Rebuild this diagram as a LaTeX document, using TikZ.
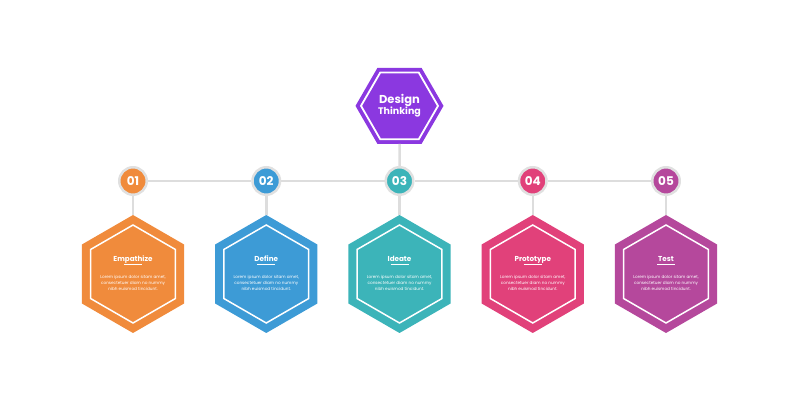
\documentclass[tikz,border=0pt]{standalone}
\usepackage{fontspec}
\setmainfont{Poppins}
\usepackage{tikz}
\usetikzlibrary{positioning}
\usetikzlibrary{shapes}

\definecolor{empathize}{HTML}{F08B3C}
\definecolor{define}{HTML}{3D9BD6}
\definecolor{ideate}{HTML}{3CB4B9}
\definecolor{prototype}{HTML}{E1417A}
\definecolor{testcol}{HTML}{B5489C}
\definecolor{thinking}{HTML}{8B38E0}
\definecolor{ringgray}{HTML}{E0E0E0}
\definecolor{linegray}{HTML}{DDDDDD}

\begin{document}
\begin{tikzpicture}[x=1pt,y=1pt,node distance=133.25pt,
    num node/.style={circle,draw=ringgray,line width=2.5pt,minimum size=27.5pt,inner sep=0pt,text=white,font=\bfseries\fontsize{12}{12}\selectfont},
    phase hex/.style={regular polygon,regular polygon sides=6,shape border rotate=30,minimum size=118pt,inner sep=0pt,outer sep=0pt},
    inner hex/.style={phase hex,draw=white,line width=1.5pt,minimum size=98pt},
    design hex/.style={regular polygon,regular polygon sides=6,minimum size=88pt,inner sep=0pt,outer sep=0pt,fill=thinking,text=white,align=center,font=\bfseries},
    design inner/.style={regular polygon,regular polygon sides=6,minimum size=77pt,inner sep=0pt,draw=white,line width=1.8pt},
    title/.style={text=white,anchor=base,font=\bfseries\fontsize{7.2}{8}\selectfont},
    body/.style={text=white,align=center,font=\fontsize{4.2}{6}\selectfont},
    bar/.style={white,line width=1pt},
    link/.style={draw=linegray,line width=2.5pt}]

    \useasboundingbox (0,0) rectangle (800,403);

    % numbered circles
    \node[num node,fill=empathize](c1) at (133,222){01};
    \node[num node,fill=define](c2)[right of = c1]{02};
    \node[num node,fill=ideate](c3)[right of = c2]{03};
    \node[num node,fill=prototype](c4)[right of = c3]{04};
    \node[num node,fill=testcol](c5)[right of = c4]{05};

    % top hexagon
    \node[design hex](dt)[above = 22pt of c3]{{\fontsize{11.5}{13}\selectfont Design}\\[-1pt]{\fontsize{9.5}{11}\selectfont Thinking}};
    \node[design inner](di) at (dt){};

    % phase hexagons
    \node[phase hex,fill=empathize](h1)[below = 19pt of c1]{};
    \node[phase hex,fill=define](h2)[below = 19pt of c2]{};
    \node[phase hex,fill=ideate](h3)[below = 19pt of c3]{};
    \node[phase hex,fill=prototype](h4)[below = 19pt of c4]{};
    \node[phase hex,fill=testcol](h5)[below = 19pt of c5]{};

    \node[inner hex](i1) at (h1){};
    \node[inner hex](i2) at (h2){};
    \node[inner hex](i3) at (h3){};
    \node[inner hex](i4) at (h4){};
    \node[inner hex](i5) at (h5){};

    % titles
    \node[title](t1) at ([yshift=12.5pt]h1.center){Empathize};
    \node[title](t2) at ([yshift=12.5pt]h2.center){Define};
    \node[title](t3) at ([yshift=12.5pt]h3.center){Ideate};
    \node[title](t4) at ([yshift=12.5pt]h4.center){Prototype};
    \node[title](t5) at ([yshift=12.5pt]h5.center){Test};

    \draw[bar] ([xshift=-9pt,yshift=9pt]h1.center) -- ([xshift=9pt,yshift=9pt]h1.center);
    \draw[bar] ([xshift=-9pt,yshift=9pt]h2.center) -- ([xshift=9pt,yshift=9pt]h2.center);
    \draw[bar] ([xshift=-9pt,yshift=9pt]h3.center) -- ([xshift=9pt,yshift=9pt]h3.center);
    \draw[bar] ([xshift=-9pt,yshift=9pt]h4.center) -- ([xshift=9pt,yshift=9pt]h4.center);
    \draw[bar] ([xshift=-9pt,yshift=9pt]h5.center) -- ([xshift=9pt,yshift=9pt]h5.center);

    % body texts
    \node[body](b1) at ([yshift=-8.5pt]h1.center){Lorem ipsum dolor sitam amet,\\consectetuer diam no nummy\\nibh euismod tincidunt.};
    \node[body](b2) at ([yshift=-8.5pt]h2.center){Lorem ipsum dolor sitam amet,\\consectetuer diam no nummy\\nibh euismod tincidunt.};
    \node[body](b3) at ([yshift=-8.5pt]h3.center){Lorem ipsum dolor sitam amet,\\consectetuer diam no nummy\\nibh euismod tincidunt.};
    \node[body](b4) at ([yshift=-8.5pt]h4.center){Lorem ipsum dolor sitam amet,\\consectetuer diam no nummy\\nibh euismod tincidunt.};
    \node[body](b5) at ([yshift=-8.5pt]h5.center){Lorem ipsum dolor sitam amet,\\consectetuer diam no nummy\\nibh euismod tincidunt.};

    % connectors
    \path[link] (c1) -- (c2);
    \path[link] (c2) -- (c3);
    \path[link] (c3) -- (c4);
    \path[link] (c4) -- (c5);
    \path[link] (c3) -- (dt);
    \path[link] (c1) -- (h1);
    \path[link] (c2) -- (h2);
    \path[link] (c3) -- (h3);
    \path[link] (c4) -- (h4);
    \path[link] (c5) -- (h5);

\end{tikzpicture}
\end{document}
